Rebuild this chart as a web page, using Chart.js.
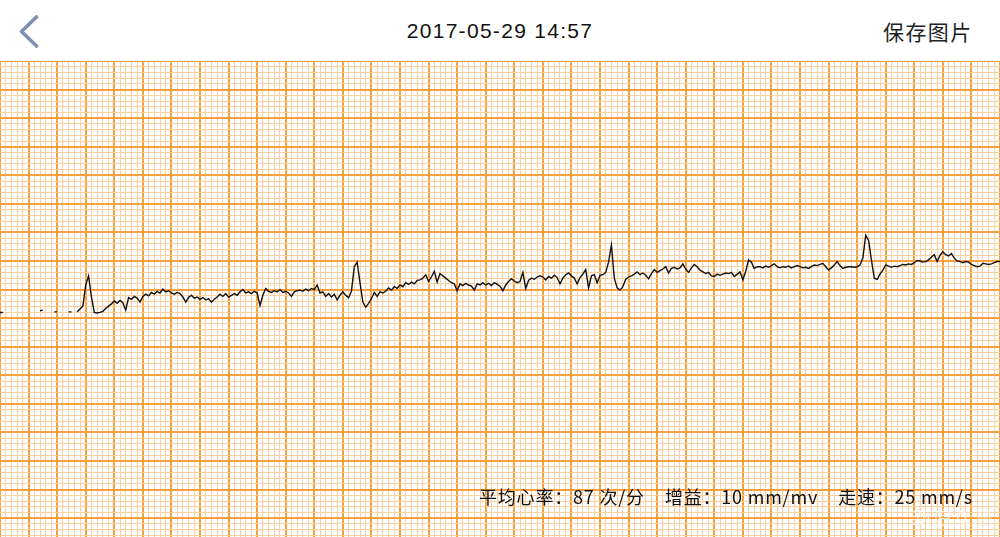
<!DOCTYPE html>
<html><head><meta charset="utf-8">
<script src="https://cdn.jsdelivr.net/npm/chart.js@4.4.1/dist/chart.umd.min.js"></script>
<style>
html,body{margin:0;padding:0;background:#fff;width:1000px;height:537px;overflow:hidden;}
body{position:relative;font-family:"Noto Sans CJK SC","Liberation Sans",sans-serif;}
#title{position:absolute;left:0;width:1000px;top:18px;text-align:center;font-family:"Liberation Sans",Arial,sans-serif;font-size:21px;letter-spacing:1.3px;color:#111;line-height:26px;}
#save{position:absolute;left:883px;top:17px;font-size:21px;letter-spacing:1.4px;line-height:28px;color:#222;}
#back{position:absolute;left:0;top:0;}
#wrap{position:absolute;left:0;top:61px;width:1000px;height:476px;}
#info{position:absolute;left:479px;top:484px;font-size:18px;letter-spacing:0.8px;line-height:24px;color:#111;white-space:pre;}
#info span{margin-right:20px;}
#wm{position:absolute;left:912px;top:505px;font-size:20px;line-height:26px;color:rgba(255,255,255,0.8);}
</style></head>
<body>
<svg id="back" width="60" height="60"><polyline points="36.5,17 21.5,31.5 36.5,46" fill="none" stroke="#7d8fb1" stroke-width="3.6" stroke-linecap="round" stroke-linejoin="round"/></svg>
<div id="title"></div>
<div id="save">保存图片</div>
<div id="wrap"><canvas id="c"></canvas></div>
<div id="info"></div>
<div id="wm">新浪众测</div>
<script>
// ---- data ----
const recordTime = "2017-05-29 14:57";
const heartRateBpm = 87;
const gainMmPerMv = 10;
const speedMmPerS = 25;
const sampleIntervalS = 0.02;   // one sample every 0.5 mm of paper
// ECG amplitude in mV, one row per 0.2 s (large square)
const ecgMv = [
  0.10,0.10,null,null,null,null,null,null,null,null,
  null,null,null,null,0.13,0.14,null,null,null,0.11,
  0.11,null,null,null,0.11,0.11,null,0.11,0.16,0.21,
  0.58,0.74,0.37,0.10,0.09,0.10,0.12,0.17,0.21,0.25,
  0.30,0.26,0.31,0.27,0.14,0.36,0.33,0.38,0.35,0.28,
  0.38,0.42,0.39,0.45,0.42,0.47,0.44,0.51,0.46,0.48,
  0.44,0.42,0.45,0.43,0.37,0.28,0.36,0.40,0.35,0.37,
  0.33,0.36,0.32,0.34,0.28,0.33,0.37,0.42,0.38,0.43,
  0.37,0.40,0.43,0.40,0.46,0.50,0.44,0.46,0.43,0.47,
  0.44,0.22,0.40,0.52,0.47,0.45,0.48,0.46,0.50,0.45,
  0.47,0.44,0.38,0.46,0.48,0.49,0.47,0.51,0.48,0.52,
  0.50,0.58,0.44,0.46,0.38,0.43,0.37,0.42,0.32,0.40,
  0.46,0.40,0.36,0.47,0.90,0.98,0.62,0.28,0.19,0.26,
  0.34,0.45,0.38,0.46,0.44,0.47,0.53,0.49,0.55,0.52,
  0.58,0.55,0.62,0.59,0.63,0.60,0.66,0.67,0.70,0.76,
  0.64,0.72,0.82,0.63,0.78,0.74,0.70,0.66,0.62,0.60,
  0.48,0.60,0.57,0.61,0.58,0.56,0.49,0.60,0.58,0.62,
  0.58,0.61,0.57,0.62,0.59,0.56,0.48,0.58,0.64,0.69,
  0.65,0.62,0.64,0.80,0.52,0.66,0.70,0.68,0.72,0.74,
  0.72,0.67,0.73,0.70,0.75,0.71,0.60,0.70,0.76,0.79,
  0.74,0.70,0.60,0.71,0.77,0.85,0.53,0.74,0.76,0.62,
  0.75,0.76,0.80,0.98,1.28,0.70,0.53,0.49,0.55,0.68,
  0.72,0.74,0.77,0.81,0.76,0.79,0.75,0.69,0.78,0.85,
  0.80,0.83,0.86,0.90,0.79,0.87,0.89,0.86,0.88,0.95,
  0.86,0.80,0.88,0.94,0.90,0.84,0.81,0.78,0.80,0.74,
  0.73,0.77,0.75,0.77,0.79,0.78,0.80,0.73,0.77,0.81,
  0.67,0.82,1.02,0.98,0.87,0.90,0.90,0.88,0.91,0.89,
  0.92,0.95,0.90,0.88,0.90,0.89,0.91,0.88,0.90,0.92,
  0.90,0.88,0.89,0.87,0.90,0.93,0.92,0.94,0.96,0.90,
  0.84,0.88,0.93,0.99,0.92,0.87,0.89,0.90,0.90,0.89,
  0.90,0.93,1.05,1.45,1.36,1.02,0.70,0.68,0.77,0.84,
  0.93,0.91,0.89,0.91,0.90,0.92,0.94,0.93,0.95,0.94,
  0.97,1.01,1.00,0.98,0.99,1.02,1.07,1.11,0.99,1.10,
  1.16,1.11,1.09,1.13,1.05,1.00,0.99,0.97,0.99,0.98,
  0.94,0.92,0.90,0.91,0.96,0.95,0.94,0.95,0.97,0.99,
  0.99
];
// paper extent
const paperSeconds = 7;       // 175 mm at 25 mm/s
const paperTopMv = 4.5;
const paperBottomMv = -3.83;

// ---- texts ----
document.getElementById('title').textContent = recordTime;
const info = document.getElementById('info');
[`平均心率：${heartRateBpm} 次/分`, `增益：${gainMmPerMv} mm/mv`, `走速：${speedMmPerS} mm/s`].forEach(t=>{
  const s=document.createElement('span'); s.textContent=t; info.appendChild(s);
});

// ---- chart ----
const points = ecgMv.map((v,i)=>({x:i*sampleIntervalS, y:v}));
const MAJOR='rgb(246,160,62)', MINOR='rgb(250,208,160)';
const xMm = v => Math.round(Math.abs(v)*speedMmPerS);
const yMm = v => Math.round(Math.abs(v)*gainMmPerMv);

new Chart(document.getElementById('c'), {
  type:'line',
  data:{datasets:[{data:points, borderColor:'#111', borderWidth:1.4, pointRadius:0, tension:0, spanGaps:false, fill:false}]},
  options:{
    responsive:true, maintainAspectRatio:false, animation:false,
    layout:{padding:0},
    plugins:{legend:{display:false}, tooltip:{enabled:false}},
    scales:{
      x:{type:'linear', min:0, max:paperSeconds,
        afterBuildTicks:(s)=>{const t=[];for(let k=0;k<=paperSeconds*speedMmPerS;k++)t.push({value:k/speedMmPerS});s.ticks=t;},
        ticks:{display:false}, border:{display:false},
        grid:{drawTicks:false, color:c=>xMm(c.tick.value)%5===0?MAJOR:MINOR, lineWidth:c=>xMm(c.tick.value)%5===0?2:1}},
      y:{type:'linear', min:paperBottomMv, max:paperTopMv,
        afterBuildTicks:(s)=>{const t=[];for(let k=Math.ceil(paperBottomMv*gainMmPerMv);k<=paperTopMv*gainMmPerMv;k++)t.push({value:k/gainMmPerMv});s.ticks=t;},
        ticks:{display:false}, border:{display:false},
        grid:{drawTicks:false, color:c=>yMm(c.tick.value)%5===0?MAJOR:MINOR, lineWidth:c=>yMm(c.tick.value)%5===0?2:1}}
    }
  }
});
</script>
</body></html>
